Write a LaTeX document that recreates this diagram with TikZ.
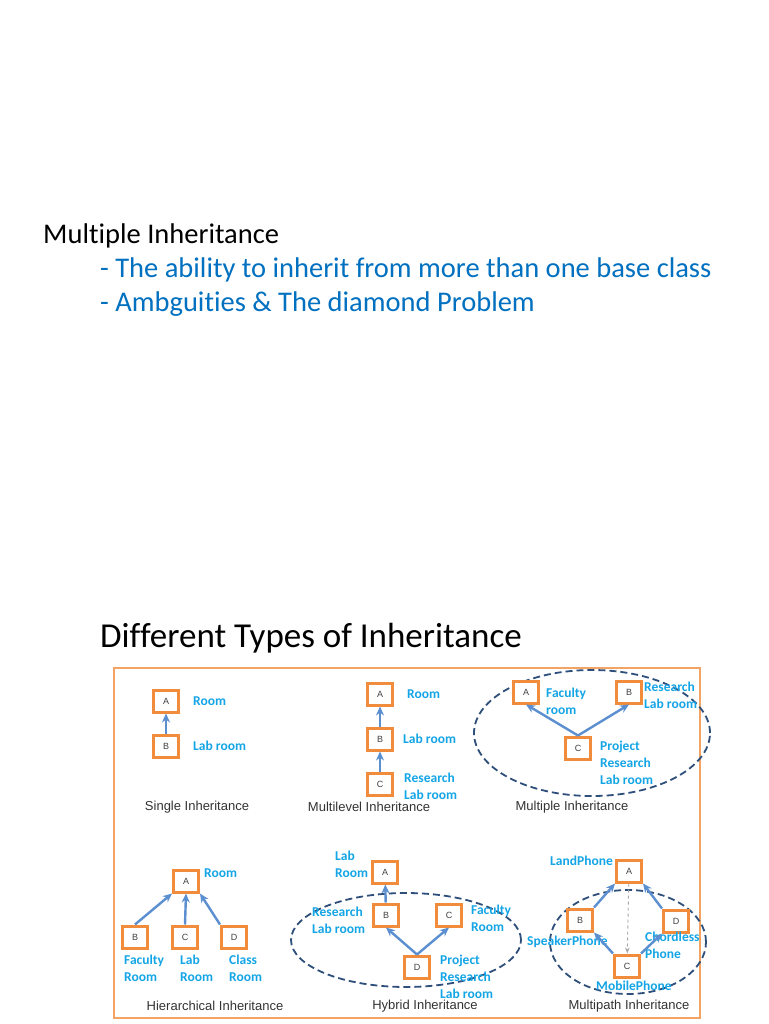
\documentclass[tikz,border=0pt]{standalone}
\usepackage{fontspec}
\setmainfont[Ligatures=NoCommon]{Carlito}
\newfontfamily\capfont{Liberation Sans}
\usetikzlibrary{arrows.meta}
\definecolor{BoxOrange}{HTML}{F08C3C}
\definecolor{ArrowBlue}{HTML}{5B8FD0}
\definecolor{LabelBlue}{HTML}{14A5E6}
\definecolor{TextBlue}{HTML}{0070C0}
\definecolor{RingBlue}{HTML}{2E4F7A}
\definecolor{CapGray}{HTML}{333333}

\begin{document}
\begin{tikzpicture}[x=1pt, y=-1pt,
    cls/.style={draw=BoxOrange, line width=3pt, fill=white, minimum width=25pt, minimum height=22pt, inner sep=0pt, text=black!75, font=\capfont\fontsize{9}{9}\selectfont},
    lbl/.style={anchor=west, inner sep=0pt, align=left, text=LabelBlue, font=\bfseries\fontsize{13.5}{17}\selectfont},
    captxt/.style={inner sep=0pt, text=CapGray, font=\capfont\fontsize{13}{13}\selectfont},
    inh/.style={-{Stealth[length=9pt, width=8pt]}, line width=2.4pt, ArrowBlue},
    ring/.style={dashed, dash pattern=on 7pt off 4pt, line width=1.8pt, RingBlue}]
    \useasboundingbox[fill=white] (0,0) rectangle (768,1024);

    % Slide text
    \node[anchor=west, inner sep=0pt, font=\fontsize{28.5}{34}\selectfont] (head) at (43,236) {Multiple Inheritance};
    \node[anchor=west, inner sep=0pt, text=TextBlue, font=\fontsize{28.5}{34}\selectfont] (pointA) at (100,270) {- The ability to inherit from more than one base class};
    \node[anchor=west, inner sep=0pt, text=TextBlue, font=\fontsize{28.5}{34}\selectfont] (pointB) at (100,304) {- Ambguities \& The diamond Problem};
    \node[anchor=west, inner sep=0pt, font=\fontsize{35}{42}\selectfont] (title) at (100,638) {Different Types of Inheritance};

    % Frame
    \draw[BoxOrange!80, line width=2.5pt] (114,668) rectangle (700,1018);

    % Single inheritance
    \node[cls] (sA) at (166,701) {A};
    \node[cls] (sB) at (166,746) {B};
    \node[lbl] (sAtxt) at (193,701) {Room};
    \node[lbl] (sBtxt) at (193,746) {Lab room};
    \draw[inh] (sB) -- (sA);
    \node[captxt] (sCap) at (197,807) {Single Inheritance};

    % Multilevel inheritance
    \node[cls] (lA) at (380,694) {A};
    \node[cls] (lB) at (380,739) {B};
    \node[cls] (lC) at (380,784) {C};
    \node[lbl] (lAtxt) at (407,694) {Room};
    \node[lbl] (lBtxt) at (403,739) {Lab room};
    \node[lbl] (lCtxt) at (404,786) {Research\\Lab room};
    \draw[inh] (lB) -- (lA);
    \draw[inh] (lC) -- (lB);
    \node[captxt] (lCap) at (369,807) {Multilevel Inheritance};

    % Multiple inheritance
    \draw[ring] (592,733) ellipse [x radius=118pt, y radius=63pt];
    \node[cls] (mA) at (526,692) {A};
    \node[cls] (mB) at (629,692) {B};
    \node[cls] (mC) at (578,748) {C};
    \node[lbl] (mAtxt) at (546,701) {Faculty\\room};
    \node[lbl] (mBtxt) at (644,695) {Research\\Lab room};
    \node[lbl] (mCtxt) at (600,763) {Project\\Research\\Lab room};
    \draw[inh] (mC.north) -- (mA.south);
    \draw[inh] (mC.north) -- (mB.south);
    \node[captxt] (mCap) at (572,807) {Multiple Inheritance};

    % Hierarchical inheritance
    \node[cls] (hA) at (186,881) {A};
    \node[cls] (hB) at (135,937) {B};
    \node[cls] (hC) at (185,937) {C};
    \node[cls] (hD) at (234,937) {D};
    \node[lbl] (hAtxt) at (204,873) {Room};
    \node[lbl] (hBtxt) at (124,968) {Faculty\\Room};
    \node[lbl] (hCtxt) at (180,968) {Lab\\Room};
    \node[lbl] (hDtxt) at (229,968) {Class\\Room};
    \draw[inh] (hB.north) -- (hA.south west);
    \draw[inh] (hC.north) -- (hA.south);
    \draw[inh] (hD.north west) -- (hA.south east);
    \node[captxt] (hCap) at (215,1006) {Hierarchical Inheritance};

    % Hybrid inheritance
    \draw[ring] (406,940) ellipse [x radius=115pt, y radius=47pt];
    \node[cls] (yA) at (385,872) {A};
    \node[cls] (yB) at (386,915) {B};
    \node[cls] (yC) at (449,915) {C};
    \node[cls] (yD) at (417,967) {D};
    \node[lbl] (yAtxt) at (335,864) {Lab\\Room};
    \node[lbl] (yBtxt) at (312,920) {Research\\Lab room};
    \node[lbl] (yCtxt) at (471,918) {Faculty\\Room};
    \node[lbl] (yDtxt) at (440,977) {Project\\Research\\Lab room};
    \draw[inh] (yB) -- (yA);
    \draw[inh] (yD.north) -- (yB.south);
    \draw[inh] (yD.north) -- (yC.south);
    \node[captxt] (yCap) at (425,1006) {Hybrid Inheritance};

    % Multipath inheritance
    \draw[ring] (628,942) ellipse [x radius=78pt, y radius=52pt];
    \node[cls] (pA) at (629,871) {A};
    \node[cls] (pB) at (580,920) {B};
    \node[cls] (pD) at (676,921) {D};
    \node[cls] (pC) at (627,966) {C};
    \node[lbl, anchor=east] (pAtxt) at (613,861) {LandPhone};
    \node[lbl] (pBtxt) at (527,942) {SpeakerPhone};
    \node[lbl] (pDtxt) at (645,945) {Chordless\\Phone};
    \node[lbl] (pCtxt) at (596,986) {MobilePhone};
    \draw[inh] (pB.north east) -- (pA.south west);
    \draw[inh] (pD.north west) -- (pA.south east);
    \draw[inh] (pC.north west) -- (pB.south east);
    \draw[inh] (pC.north east) -- (pD.south west);
    \draw[-{Stealth[length=6pt]}, dashed, gray!70, line width=0.9pt] (pA) -- (pC);
    \node[captxt] (pCap) at (629,1006) {Multipath Inheritance};
\end{tikzpicture}
\end{document}
